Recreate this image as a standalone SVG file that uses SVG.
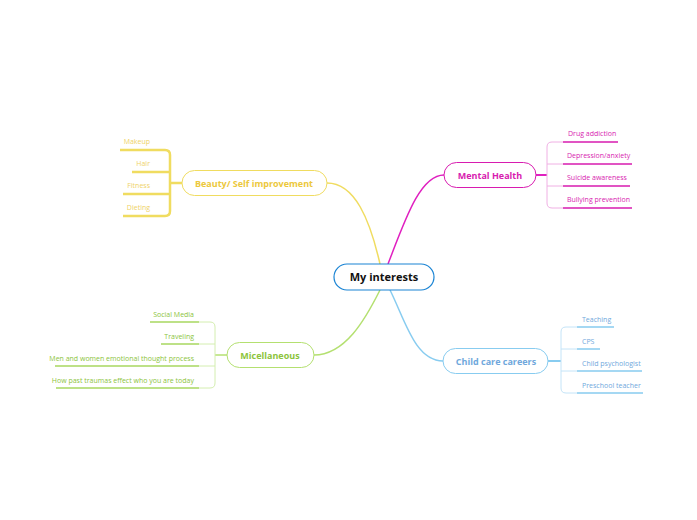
<svg xmlns="http://www.w3.org/2000/svg" width="697" height="520" viewBox="0 0 697 520">
<style>
text{font-family:"Open Sans","Noto Sans",sans-serif}
.leaf{font-size:7px}
.main{font-size:9px;font-weight:bold;text-anchor:middle}
.y{fill:#ecc83c}.m{fill:#d81cb0}.g{fill:#8cc43c}.b{fill:#70a8dc}
</style>
<rect width="697" height="520" fill="#fff"/>
<g id="connectors" fill="none">
<path d="M380 264 C370 220 355 183 327 183" stroke="#f0dc60" stroke-width="1.5"/>
<path d="M388 264 C405 220 420 175 444 175" stroke="#e020c0" stroke-width="1.5"/>
<path d="M380 290 C365 320 345 355 314 355" stroke="#b4e070" stroke-width="1.5"/>
<path d="M390 290 C405 320 415 361 443 361" stroke="#88ccf0" stroke-width="1.5"/>
<path d="M170 183 H182 M170 155 V211 M120 150 H165 Q170 150 170 155 M132 172 H170 M123 194 H170 M123 216 H165 Q170 216 170 211" stroke="#f0dc60" stroke-width="2.5"/>
<path d="M536 175 H547" stroke="#e020c0" stroke-width="2"/>
<path d="M563 142 H552 Q547 142 547 147 V203 Q547 208 552 208 H563 M547 164 H563 M547 186 H563" stroke="#f0b0e4" stroke-width="1"/>
<path d="M563 142 H618 M563 164 H632 M563 186 H630 M563 208 H632" stroke="#d81cb0" stroke-width="1.5"/>
<path d="M215 355 H227" stroke="#b4e070" stroke-width="1.5"/>
<path d="M199 322 H210 Q215 322 215 327 V383 Q215 388 210 388 H199 M199 344 H215 M199 366 H215" stroke="#d4eeb0" stroke-width="1"/>
<path d="M150 322 H199 M161 344 H199 M55 366 H199 M56 388 H199" stroke="#a8d860" stroke-width="1.5"/>
<path d="M548 361 H561" stroke="#88ccf0" stroke-width="2"/>
<path d="M577 327 H566 Q561 327 561 332 V388 Q561 393 566 393 H577 M561 349 H577 M561 371 H577" stroke="#c4e4f8" stroke-width="1"/>
<path d="M577 327 H614 M577 349 H600 M577 371 H642 M577 393 H643" stroke="#88ccf0" stroke-width="1.5"/>
</g>
<g id="center">
<rect x="334" y="264" width="100" height="26" rx="13" fill="#fff" stroke="#1a84d4" stroke-width="1.2"/>
<text x="384" y="281" class="main" style="font-size:11px" fill="#111">My interests</text>
</g>
<g id="beauty">
<rect x="182" y="170.5" width="145" height="25" rx="12.5" fill="#fff" stroke="#f0dc60"/>
<text x="254" y="186.5" class="main y">Beauty/ Self improvement</text>
<g class="leaf y" text-anchor="end" opacity="0.8"><text x="150" y="144">Makeup</text><text x="150" y="166">Hair</text><text x="150" y="188">Fitness</text><text x="150" y="210">Dieting</text></g>
</g>
<g id="mental">
<rect x="444" y="162.5" width="92" height="25" rx="12.5" fill="#fff" stroke="#d81cb0"/>
<text x="490" y="178.5" class="main m">Mental Health</text>
<g class="leaf m"><text x="568" y="136">Drug addiction</text><text x="567" y="158">Depression/anxiety</text><text x="567" y="180">Suicide awareness</text><text x="567" y="202">Bullying prevention</text></g>
</g>
<g id="misc">
<rect x="227" y="342.5" width="87" height="25" rx="12.5" fill="#fff" stroke="#b4e070"/>
<text x="270" y="358.5" class="main g">Micellaneous</text>
<g class="leaf g" text-anchor="end"><text x="194" y="317">Social Media</text><text x="194" y="339">Traveling</text><text x="194" y="361">Men and women emotional thought process</text><text x="194" y="383">How past traumas effect who you are today</text></g>
</g>
<g id="child">
<rect x="443" y="348.5" width="105" height="25" rx="12.5" fill="#fff" stroke="#88ccf0"/>
<text x="496" y="364.5" class="main b">Child care careers</text>
<g class="leaf b"><text x="582" y="322">Teaching</text><text x="582" y="344">CPS</text><text x="582" y="366">Child psychologist</text><text x="582" y="388">Preschool teacher</text></g>
</g>
</svg>
